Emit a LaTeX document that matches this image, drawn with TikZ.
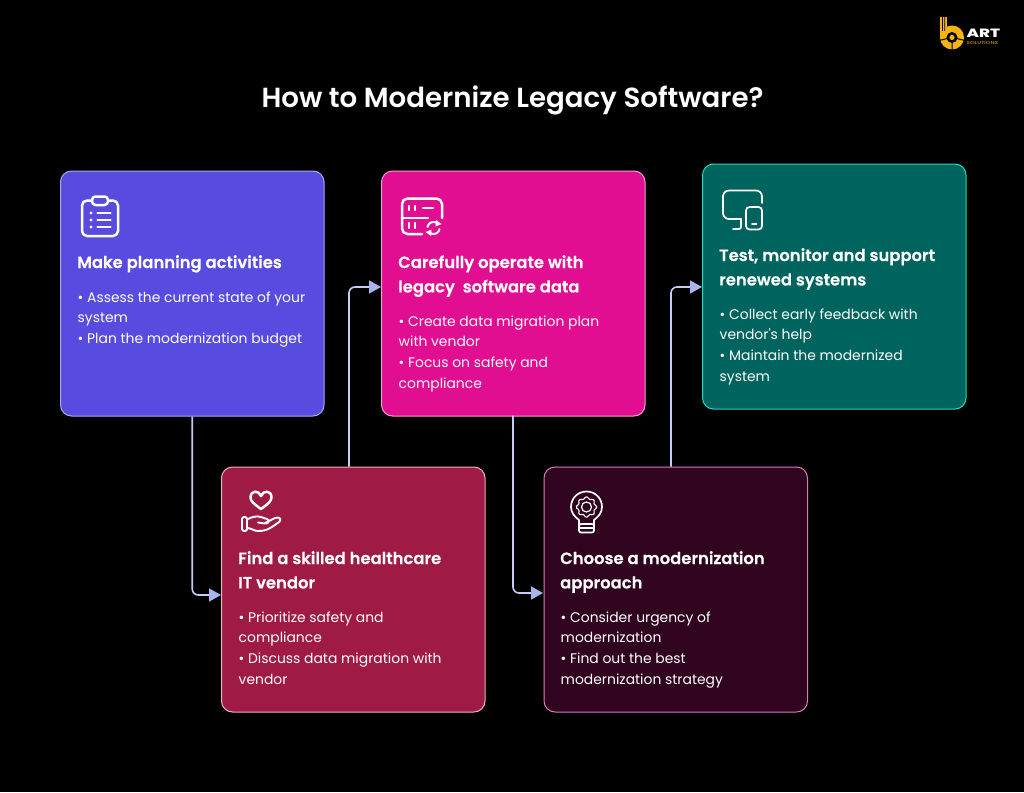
\documentclass[tikz,border=0pt]{standalone}
\usepackage{fontspec}
\setmainfont{Poppins}[BoldFont={Poppins SemiBold}]
\newfontfamily\logofont{Poppins ExtraBold}
\newfontfamily\plainf{Poppins}
\newfontfamily\headf{Poppins SemiBold}[FakeBold=0.3]
\usetikzlibrary{arrows.meta}
\definecolor{cA}{HTML}{574BE0}\definecolor{bA}{HTML}{A9A9EC}
\definecolor{cB}{HTML}{9F1B45}\definecolor{bB}{HTML}{E8B4C4}
\definecolor{cC}{HTML}{E10E92}\definecolor{bC}{HTML}{F0A0D0}
\definecolor{cD}{HTML}{30041E}\definecolor{bD}{HTML}{D67DB8}
\definecolor{cE}{HTML}{00645E}\definecolor{bE}{HTML}{20DDC0}
\definecolor{lnk}{HTML}{C6CCF6}\definecolor{tipc}{HTML}{A9B4EE}
\definecolor{logoy}{HTML}{F5B40F}
\tikzset{
 x=1pt,y=-1pt,
 card/.style={rectangle,rounded corners=11pt,minimum width=263.5pt,minimum height=245pt,inner sep=0pt,line width=1pt,anchor=north west},
 conn/.style={draw=lnk,line width=1.6pt,rounded corners=6pt,-{Triangle[length=12pt,width=13pt,fill=tipc,color=tipc]}},
 head/.style={anchor=north west,inner sep=0pt,align=left,text=white,font=\fontsize{16.4}{24.4}\headf},
 body/.style={anchor=north west,inner sep=0pt,align=left,text=white,font=\fontsize{13.9}{20.6}\selectfont},
 icon/.style={draw=white,line width=2.5pt,line cap=round,line join=round},
 thinicon/.style={draw=white,line width=1.7pt,line cap=round,line join=round},
}
\begin{document}
\begin{tikzpicture}
\useasboundingbox (0,0) rectangle (1024,792);
\fill[black] (0,0) rectangle (1024,792);
% title
\node[anchor=center,inner sep=0pt,text=white,font=\fontsize{27.65}{30}\selectfont\bfseries] (title) at (512.5,100) {How to Modernize Legacy Software?};
% cards
\node[card,fill=cA,draw=bA] (box1) at (60,170.5) {};
\node[card,fill=cB,draw=bB] (box2) at (221,466.5) {};
\node[card,fill=cC,draw=bC] (box3) at (381,170.5) {};
\node[card,fill=cD,draw=bD] (box4) at (543.5,466.5) {};
\node[card,fill=cE,draw=bE] (box5) at (702,163.5) {};
% connector ends
\coordinate (e2) at (221,595);
\coordinate (s2) at (349,466.5);
\coordinate (e3) at (381,287);
\coordinate (s3) at (513,415.5);
\coordinate (e4) at (543,593);
\coordinate (s4) at (671,466.5);
\coordinate (e5) at (702,287);
\draw[conn] (box1.south) |- (e2);
\draw[conn] (s2) |- (e3);
\draw[conn] (s3) |- (e4);
\draw[conn] (s4) |- (e5);
% texts
\node[head] (h1) at (77,255) {Make planning activities};
\node[body] (t1) at (77.5,291.5) {• Assess the current state of your\\system\\• Plan the modernization budget};
\node[head] (h2) at (238,551) {Find a skilled healthcare\\IT vendor};
\node[body] (t2) at (238.5,611.5) {• Prioritize safety and\\compliance\\• Discuss data migration with\\vendor};
\node[head] (h3) at (398,255) {Carefully operate with\\legacy\ \ software data};
\node[body] (t3) at (398.5,315.5) {• Create data migration plan\\with vendor\\• Focus on safety and\\compliance};
\node[head] (h4) at (560,551) {Choose a modernization\\approach};
\node[body] (t4) at (560.5,611.5) {• Consider urgency of\\modernization\\• Find out the best\\modernization strategy};
\node[head] (h5) at (719,248) {Test, monitor and support\\renewed systems};
\node[body] (t5) at (719.5,308.5) {• Collect early feedback with\\vendor{\plainf '}s help\\• Maintain the modernized\\system};
% clipboard icon
\draw[icon,rounded corners=5pt] (92,200.5) -- (82,200.5) -- (82,236) -- (118,236) -- (118,200.5) -- (108,200.5);
\draw[icon,rounded corners=3.5pt] (92,196.5) rectangle (108,205);
\foreach \yy in {213,220,227}{
 \draw[icon] (97.5,\yy) -- (110.5,\yy);
 \fill[white] (91,\yy) circle (1.6);
}
% server icon
\draw[icon,rounded corners=5.5pt] (422,234) -- (402,234) -- (402,198.5) -- (442,198.5) -- (442,218);
\draw[icon] (402,218) -- (428,218);
\draw[icon] (409,206) -- (409,210) (415,206) -- (415,210) (423,208) -- (433,208);
\draw[icon] (409,223) -- (409,228) (415,223) -- (415,228);
\draw[thinicon,line width=2pt] plot[smooth,samples=12,domain=190:305] ({433.5+6*cos(\x)},{228+6*sin(\x)});
\draw[thinicon,line width=2pt] plot[smooth,samples=12,domain=10:125] ({433.5+6*cos(\x)},{228+6*sin(\x)});
\fill[white] (436,220) -- (441.5,224) -- (435.5,226.5) -- cycle;
\fill[white] (431,236) -- (425.5,232) -- (431.5,229.5) -- cycle;
% devices icon
\draw[thinicon,rounded corners=6pt] (762,203) -- (762,190.5) -- (723,190.5) -- (723,219) -- (741,219);
\draw[thinicon,rounded corners=2pt] (741,219) -- (741,229) -- (733,229);
\draw[thinicon,rounded corners=3.5pt] (746,207) rectangle (762,229.5);
\draw[thinicon] (752,224) -- (756.5,224);
% heart and hand icon
\draw[icon] (261,509) .. controls (254,504) and (250.5,501) .. (250.5,497.5) .. controls (250.5,490) and (259,490) .. (261,496) .. controls (263,490) and (271.5,490) .. (271.5,497.5) .. controls (271.5,501) and (268,504) .. (261,509) -- cycle;
\draw[thinicon,line width=1.9pt,rounded corners=1.5pt] (242,517) rectangle (247,531);
\draw[thinicon,line width=1.9pt] (247,519.5) .. controls (252,517) and (256,515.5) .. (261,517) -- (267,519) .. controls (270,520) and (269,524) .. (265,523.5) -- (258,522.5) (265,523) -- (275,518) .. controls (280,516) and (282,520) .. (279,522) .. controls (272,527) and (268,531) .. (258,531) .. controls (254,531) and (251,528) .. (247,528);
% bulb icon
\draw[thinicon] (579,525) -- (579,520) .. controls (575,517) and (571,513) .. (571,507) .. controls (571,498) and (578,491.5) .. (586.5,491.5) .. controls (595,491.5) and (602,498) .. (602,507) .. controls (602,513) and (598,517) .. (594,520) -- (594,525);
\draw[thinicon,rounded corners=2pt] (579,524) -- (579,532.5) -- (594,532.5) -- (594,524) -- cycle;
\draw[thinicon] (579,528) -- (594,528);
\draw[thinicon,line width=1.2pt] (586.5,507) circle (5);
\draw[thinicon,line width=1.1pt] plot[smooth cycle,samples=33,domain=0:348.75] ({586.5+(9.2+1.1*cos(8*\x))*cos(\x)},{507+(9.2+1.1*cos(8*\x))*sin(\x)});
% logo
\fill[logoy] (940,17) rectangle (946.5,37);
\fill[logoy] (952,37.5) circle (12);
\fill[black] (942.1,17) rectangle (942.9,31) (944.4,17) rectangle (945.2,31);
\fill[black] (952,37.5) circle (5.5);
\fill[logoy] (952,37.5) circle (2.6);
\draw[black,line width=1pt] (952,42) -- (952,50) (947.5,38.5) -- (939,40.5) (956.5,38.5) -- (965,40.5);
\node[anchor=west,inner sep=0pt,text=white,font=\fontsize{12}{12}\logofont] (lg1) at (966.5,33.5) {\scalebox{1.38}[1]{ART}};
\node[anchor=west,inner sep=0pt,text=logoy,font=\fontsize{4.2}{5}\plainf] (lg2) at (966.5,43.5) {\scalebox{1.4}[1]{SOLUTIONS}};
\end{tikzpicture}
\end{document}
